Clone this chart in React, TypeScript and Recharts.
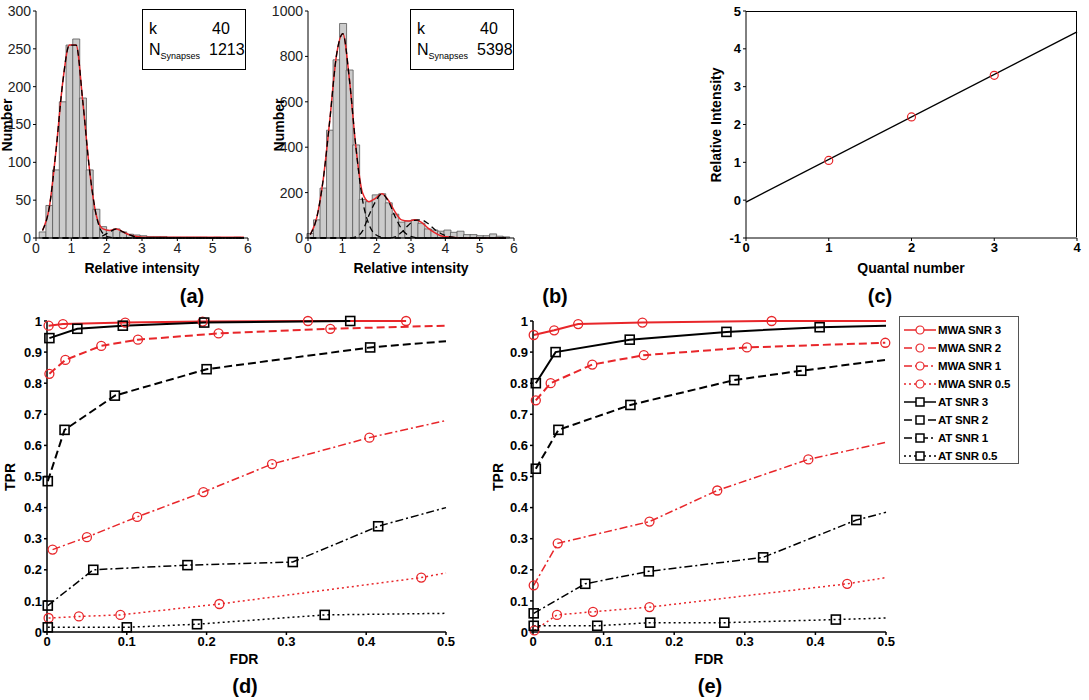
import React from "react";
import {
  ComposedChart,
  LineChart,
  Bar,
  Line,
  XAxis,
  YAxis,
} from "recharts";

// histogram (a)
const binA = [8, 43, 90, 180, 255, 263, 185, 90, 38, 15, 10, 12, 8, 5, 4, 3, 2, 2, 2, 1, 1, 1, 1, 1, 1, 0, 1, 0, 0, 1, 0];
const totalA = [10, 40, 115, 205, 255, 255, 180, 90, 30, 12, 10, 12, 8, 4, 2, 1, 1, 1, 1, 1, 1, 1, 1, 1, 1, 1, 1, 1, 1, 1, 1];
const comp1A = [10, 40, 115, 205, 255, 255, 180, 90, 30, 6, 1, 0, 0, 0, 0, 0, 0, 0, 0, 0, 0, 0, 0, 0, 0, 0, 0, 0, 0, 0, 0];
const comp2A = [0, 0, 0, 0, 0, 0, 0, 0, 0, 3, 8, 12, 8, 4, 1, 0, 0, 0, 0, 0, 0, 0, 0, 0, 0, 0, 0, 0, 0, 0, 0];

// histogram (b)
const binB = [20, 80, 220, 475, 785, 945, 740, 410, 170, 160, 190, 195, 155, 105, 70, 75, 80, 65, 40, 35, 30, 35, 25, 30, 15, 15, 10, 10, 18, 8, 5];
const totalB = [15, 90, 260, 520, 800, 900, 700, 400, 200, 160, 175, 195, 165, 115, 80, 75, 80, 70, 45, 25, 10, 5, 2, 1, 0, 0, 0, 0, 0, 0, 0];
const comp1B = [15, 90, 260, 520, 800, 900, 700, 400, 170, 60, 15, 3, 0, 0, 0, 0, 0, 0, 0, 0, 0, 0, 0, 0, 0, 0, 0, 0, 0, 0, 0];
const comp2B = [0, 0, 0, 0, 0, 0, 0, 5, 30, 100, 160, 195, 160, 95, 40, 12, 3, 0, 0, 0, 0, 0, 0, 0, 0, 0, 0, 0, 0, 0, 0];
const comp3B = [0, 0, 0, 0, 0, 0, 0, 0, 0, 0, 0, 0, 0, 5, 25, 55, 78, 80, 65, 40, 20, 8, 3, 1, 0, 0, 0, 0, 0, 0, 0];

// quantal (c)
const quantalFit = [
  { x: 0, y: -0.05 },
  { x: 4, y: 4.45 },
];
const quantalPts = [
  { x: 1, y: 1.05 },
  { x: 2, y: 2.2 },
  { x: 3, y: 3.3 },
];

// ROC curves: [FDR, TPR]
const seriesD: Record<string, number[][]> = {
  "MWA SNR 3": [[0.002, 0.985], [0.02, 0.99], [0.098, 0.995], [0.195, 0.998], [0.327, 1.0], [0.45, 1.0]],
  "MWA SNR 2": [[0.003, 0.83], [0.023, 0.875], [0.068, 0.92], [0.114, 0.94], [0.215, 0.96], [0.355, 0.975], [0.5, 0.985]],
  "MWA SNR 1": [[0.007, 0.265], [0.05, 0.305], [0.113, 0.37], [0.196, 0.45], [0.282, 0.54], [0.404, 0.625], [0.5, 0.68]],
  "MWA SNR 0.5": [[0.002, 0.045], [0.04, 0.05], [0.092, 0.055], [0.216, 0.09], [0.469, 0.175], [0.5, 0.19]],
  "AT SNR 3": [[0.003, 0.945], [0.038, 0.975], [0.095, 0.985], [0.197, 0.995], [0.38, 1.0]],
  "AT SNR 2": [[0.001, 0.485], [0.022, 0.65], [0.085, 0.76], [0.2, 0.845], [0.405, 0.915], [0.5, 0.935]],
  "AT SNR 1": [[0.001, 0.085], [0.058, 0.2], [0.176, 0.215], [0.308, 0.225], [0.415, 0.34], [0.5, 0.4]],
  "AT SNR 0.5": [[0.001, 0.015], [0.1, 0.015], [0.188, 0.025], [0.348, 0.055], [0.5, 0.06]],
};
const seriesE: Record<string, number[][]> = {
  "MWA SNR 3": [[0.001, 0.955], [0.03, 0.97], [0.064, 0.99], [0.155, 0.995], [0.338, 1.0], [0.5, 1.0]],
  "MWA SNR 2": [[0.004, 0.745], [0.025, 0.8], [0.084, 0.86], [0.157, 0.89], [0.303, 0.915], [0.499, 0.93]],
  "MWA SNR 1": [[0.001, 0.15], [0.035, 0.285], [0.165, 0.355], [0.261, 0.455], [0.39, 0.555], [0.5, 0.61]],
  "MWA SNR 0.5": [[0.002, 0.005], [0.034, 0.055], [0.085, 0.065], [0.165, 0.08], [0.445, 0.155], [0.5, 0.175]],
  "AT SNR 3": [[0.004, 0.8], [0.032, 0.9], [0.137, 0.94], [0.274, 0.965], [0.406, 0.98], [0.5, 0.985]],
  "AT SNR 2": [[0.004, 0.525], [0.036, 0.65], [0.138, 0.73], [0.285, 0.81], [0.38, 0.84], [0.5, 0.875]],
  "AT SNR 1": [[0.001, 0.06], [0.074, 0.155], [0.164, 0.195], [0.326, 0.24], [0.458, 0.36], [0.5, 0.385]],
  "AT SNR 0.5": [[0.001, 0.02], [0.091, 0.02], [0.166, 0.03], [0.271, 0.03], [0.429, 0.04], [0.5, 0.045]],
};
const seriesNames = ["MWA SNR 3", "MWA SNR 2", "MWA SNR 1", "MWA SNR 0.5", "AT SNR 3", "AT SNR 2", "AT SNR 1", "AT SNR 0.5"];

const RED = "#e8262a";
const dashFor = (name: string) =>
  name.endsWith(" 3") ? undefined : name.endsWith(" 2") ? "8 4" : name.endsWith(" 1") ? "8 3 2 3" : "2 3";

const FONT = "'Liberation Sans', Arial, sans-serif";
const NARROW = "'Liberation Sans Narrow', 'Liberation Sans', sans-serif";
const tickB = { fill: "#000", fontSize: 13, fontWeight: 700, fontFamily: FONT };
const tickN = { fill: "#222", fontSize: 14, fontFamily: NARROW };

const histData = (bins: number[], start: number, comps: number[][]) =>
  bins.map((v, i) => ({
    x: +(start + 0.19 * i).toFixed(3),
    n: v,
    t: comps[0][i],
    c1: comps[1][i],
    c2: comps[2][i],
    c3: comps[3] ? comps[3][i] : 0,
  }));

const dataA = histData(binA, 0.185, [totalA, comp1A, comp2A]);
const dataB = histData(binB, 0.065, [totalB, comp1B, comp2B, comp3B]);

function Marker(props: any) {
  const { cx, cy, payload, index, isAT, hideEnd } = props;
  if (cx == null || (hideEnd && payload.x >= 0.5)) return <g key={index} />;
  return isAT ? (
    <rect key={index} x={cx - 4.5} y={cy - 4.5} width={9} height={9} fill="none" stroke="#000" strokeWidth={1.6} />
  ) : (
    <circle key={index} cx={cx} cy={cy} r={4.5} fill="none" stroke={RED} strokeWidth={1.3} />
  );
}

function Hist({ data, left, plotW, ymax, yticks }: { data: any[]; left: number; plotW: number; ymax: number; yticks: number[] }) {
  return (
    <div style={{ position: "absolute", left: left - 36, top: 1 }}>
      <ComposedChart width={plotW + 36 + 8} height={266} data={data} margin={{ top: 10, right: 8, left: 0, bottom: 0 }} barCategoryGap={0}>
        <XAxis dataKey="x" type="number" domain={[0, 6]} ticks={[0, 1, 2, 3, 4, 5, 6]} tick={tickN} stroke="#000" tickSize={3} height={29} />
        <YAxis type="number" domain={[0, ymax]} ticks={yticks} tick={tickN} stroke="#000" tickSize={3} width={36} />
        <Bar dataKey="n" fill="#cccccc" stroke="#555" strokeWidth={0.8} isAnimationActive={false} />
        <Line dataKey="t" type="monotone" stroke={RED} strokeWidth={1.5} dot={false} isAnimationActive={false} />
        <Line dataKey="c1" type="monotone" stroke="#000" strokeDasharray="6 4" strokeWidth={1.3} dot={false} isAnimationActive={false} />
        <Line dataKey="c2" type="monotone" stroke="#000" strokeDasharray="6 4" strokeWidth={1.3} dot={false} isAnimationActive={false} />
        <Line dataKey="c3" type="monotone" stroke="#000" strokeDasharray="6 4" strokeWidth={1.3} dot={false} isAnimationActive={false} />
      </ComposedChart>
    </div>
  );
}

function Roc({ series, left, plotW, hideEnd }: { series: Record<string, number[][]>; left: number; plotW: number; hideEnd: boolean }) {
  return (
    <div style={{ position: "absolute", left: left - 47, top: 311 }}>
      <LineChart width={plotW + 47 + 14} height={351} margin={{ top: 10, right: 14, left: 0, bottom: 0 }}>
        <XAxis dataKey="x" type="number" domain={[0, 0.5]} ticks={[0, 0.1, 0.2, 0.3, 0.4, 0.5]} tick={tickB} stroke="#000" strokeWidth={1.5} tickSize={3} height={30} allowDuplicatedCategory={false} />
        <YAxis type="number" domain={[0, 1]} ticks={[0, 0.1, 0.2, 0.3, 0.4, 0.5, 0.6, 0.7, 0.8, 0.9, 1]} tick={tickB} stroke="#000" strokeWidth={1.5} tickSize={3} width={47} />
        {seriesNames.map((name) => {
          const isAT = name.startsWith("AT");
          return (
            <Line
              key={name}
              data={series[name].map(([x, y]) => ({ x, y }))}
              dataKey="y"
              type="linear"
              stroke={isAT ? "#000" : RED}
              strokeWidth={name.endsWith(" 3") || name.endsWith(" 2") ? 2 : 1.5}
              strokeDasharray={dashFor(name)}
              dot={(p: any) => <Marker {...p} isAT={isAT} hideEnd={hideEnd} />}
              isAnimationActive={false}
            />
          );
        })}
      </LineChart>
    </div>
  );
}

const boldLabel: React.CSSProperties = { position: "absolute", fontFamily: FONT, fontWeight: 700, fontSize: 14, whiteSpace: "nowrap" };
const vLabel = (text: string, x: number, y: number): React.ReactNode => (
  <div style={{ ...boldLabel, left: x, top: y, transform: "translate(-50%,-50%) rotate(-90deg)" }}>{text}</div>
);
const hLabel = (text: string, x: number, y: number, size = 14): React.ReactNode => (
  <div style={{ ...boldLabel, left: x, top: y, fontSize: size, transform: "translate(-50%,-50%)" }}>{text}</div>
);

function InfoBox({ left, n }: { left: number; n: string }) {
  const t: React.CSSProperties = { fontFamily: NARROW, fontSize: 16, position: "absolute", whiteSpace: "nowrap" };
  return (
    <div style={{ position: "absolute", left, top: 9, width: 104, height: 61, border: "1.5px solid #000", background: "#fff", boxSizing: "border-box" }}>
      <div style={{ ...t, left: 6, top: 10 }}>k</div>
      <div style={{ ...t, left: 69, top: 10 }}>40</div>
      <div style={{ ...t, left: 6, top: 31 }}>
        N<sub style={{ fontSize: 9 }}>Synapses</sub>
      </div>
      <div style={{ ...t, left: 66, top: 31 }}>{n}</div>
    </div>
  );
}

function LegendBox() {
  return (
    <div style={{ position: "absolute", left: 899, top: 316, width: 120, height: 148, border: "1px solid #555", background: "#fff", boxSizing: "border-box" }}>
      {seriesNames.map((name, i) => {
        const isAT = name.startsWith("AT");
        const c = isAT ? "#000" : RED;
        return (
          <div key={name} style={{ position: "absolute", left: 3, top: 4 + i * 18, height: 18, display: "flex", alignItems: "center", whiteSpace: "nowrap" }}>
            <svg width={34} height={14}>
              <line x1={1} y1={7} x2={33} y2={7} stroke={c} strokeWidth={1.5} strokeDasharray={dashFor(name)} />
              {isAT ? (
                <rect x={13} y={3} width={8} height={8} fill="#fff" stroke="#000" strokeWidth={1.5} />
              ) : (
                <circle cx={17} cy={7} r={4} fill="#fff" stroke={RED} strokeWidth={1.2} />
              )}
            </svg>
            <span style={{ fontFamily: FONT, fontWeight: 700, fontSize: 11.5, marginLeft: 1, letterSpacing: -0.2 }}>{name}</span>
          </div>
        );
      })}
    </div>
  );
}

export default function App() {
  return (
    <div style={{ position: "absolute", left: 0, top: 0, width: 1089, height: 700, background: "#fff" }}>
      <Hist data={dataA} left={36} plotW={212} ymax={300} yticks={[0, 50, 100, 150, 200, 250, 300]} />
      <Hist data={dataB} left={308} plotW={206} ymax={1000} yticks={[0, 200, 400, 600, 800, 1000]} />
      <InfoBox left={142} n="1213" />
      <InfoBox left={410} n="5398" />

      <div style={{ position: "absolute", left: 746 - 34, top: 1 }}>
        <LineChart width={331 + 34 + 6} height={266} margin={{ top: 10, right: 6, left: 0, bottom: 0 }}>
          <XAxis dataKey="x" type="number" domain={[0, 4]} ticks={[0, 1, 2, 3, 4]} tick={tickB} stroke="#000" tickSize={3} height={29} />
          <YAxis type="number" domain={[-1, 5]} ticks={[-1, 0, 1, 2, 3, 4, 5]} tick={tickB} stroke="#000" tickSize={3} width={34} />
          <Line data={quantalFit} dataKey="y" type="linear" stroke="#000" strokeWidth={1.3} dot={false} isAnimationActive={false} />
          <Line data={quantalPts} dataKey="y" type="linear" stroke="none" dot={{ r: 4, stroke: RED, fill: "none", strokeWidth: 1.2 }} isAnimationActive={false} />
        </LineChart>
        <div style={{ position: "absolute", left: 34, top: 10, width: 331, height: 226, border: "1px solid #000", borderLeft: "none", borderBottom: "none", boxSizing: "border-box", pointerEvents: "none" }} />
      </div>

      {vLabel("Number", 7, 125)}
      {vLabel("Number", 279, 125)}
      {vLabel("Relative Intensity", 716, 125)}
      {hLabel("Relative intensity", 142, 268)}
      {hLabel("Relative intensity", 411, 268)}
      {hLabel("Quantal number", 911, 268)}
      {hLabel("(a)", 192, 296, 20)}
      {hLabel("(b)", 555, 296, 20)}
      {hLabel("(c)", 880, 296, 20)}

      <Roc series={seriesD} left={47} plotW={399} hideEnd={true} />
      <Roc series={seriesE} left={533} plotW={353} hideEnd={true} />
      <LegendBox />

      {vLabel("TPR", 10, 477)}
      {vLabel("TPR", 498, 477)}
      {hLabel("FDR", 244, 659)}
      {hLabel("FDR", 709, 659)}
      {hLabel("(d)", 245, 686, 20)}
      {hLabel("(e)", 710, 686, 20)}
    </div>
  );
}
